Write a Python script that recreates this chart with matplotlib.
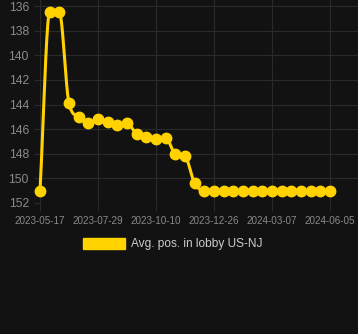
import numpy as np
import matplotlib.pyplot as plt
from matplotlib.patches import Patch

plt.rcParams['font.family'] = ['Liberation Sans', 'DejaVu Sans']

# average lobby position, one value per sample
positions = [151.0, 136.5, 136.5, 143.9, 145.0, 145.5, 145.2, 145.4, 145.7, 145.5,
             146.4, 146.6, 146.8, 146.7, 148.0, 148.2, 150.4, 151.0, 151.0, 151.0,
             151.0, 151.0, 151.0, 151.0, 151.0, 151.0, 151.0, 151.0, 151.0, 151.0,
             151.0]
tick_labels = ['2023-05-17', '2023-07-29', '2023-10-10', '2023-12-26', '2024-03-07', '2024-06-05']
tick_idx = [0, 6, 12, 18, 24, 30]
y_ticks = [136, 138, 140, 142, 144, 146, 148, 150, 152]

BG = '#121212'
GRID = '#2a2a2a'
GOLD = '#ffd200'


def monotone(x, y, n=20):
    # Fritsch-Carlson monotone cubic, only for drawing the smooth line
    x = np.asarray(x, float)
    y = np.asarray(y, float)
    h = np.diff(x)
    d = np.diff(y) / h
    m = np.zeros_like(y)
    m[0], m[-1] = d[0], d[-1]
    for i in range(1, len(y) - 1):
        if d[i - 1] * d[i] <= 0:
            m[i] = 0
        else:
            m[i] = (d[i - 1] + d[i]) / 2
    for i in range(len(d)):
        if d[i] == 0:
            m[i] = m[i + 1] = 0
        else:
            a, b = m[i] / d[i], m[i + 1] / d[i]
            s = a * a + b * b
            if s > 9:
                t = 3 / np.sqrt(s)
                m[i], m[i + 1] = t * a * d[i], t * b * d[i]
    xs, ys = [], []
    for i in range(len(d)):
        t = np.linspace(0, 1, n, endpoint=False)
        h00 = 2 * t**3 - 3 * t**2 + 1
        h10 = t**3 - 2 * t**2 + t
        h01 = -2 * t**3 + 3 * t**2
        h11 = t**3 - t**2
        xs.append(x[i] + t * h[i])
        ys.append(h00 * y[i] + h10 * h[i] * m[i] + h01 * y[i + 1] + h11 * h[i] * m[i + 1])
    xs.append([x[-1]])
    ys.append([y[-1]])
    return np.concatenate(xs), np.concatenate(ys)


x = np.arange(len(positions))
sx, sy = monotone(x, positions)

fig = plt.figure(figsize=(3.58, 3.34), dpi=100, facecolor=BG)
ax = fig.add_axes([40 / 358, 1 - 203 / 334, 318 / 358, 203 / 334], facecolor=BG)

ax.plot(sx, sy, color=GOLD, lw=2.2, zorder=3, clip_on=False)
ax.plot(x, positions, 'o', color=GOLD, ms=7.5, zorder=4, clip_on=False)

ax.set_xlim(0, 32.9)
ax.set_ylim(152, 135.5)
ax.set_yticks(y_ticks)
ax.set_xticks(tick_idx)
ax.set_xticklabels(tick_labels)
ax.grid(True, color=GRID, lw=0.8)
for s in ax.spines.values():
    s.set_visible(False)
ax.tick_params(axis='y', colors=GRID, labelcolor='#8a8a8a', labelsize=8.7, length=4, pad=4)
ax.tick_params(axis='x', colors=GRID, labelcolor='#8a8a8a', labelsize=7.1, length=6, pad=3)

fig.legend(handles=[Patch(color=GOLD, label='Avg. pos. in lobby US-NJ')],
           loc='center', bbox_to_anchor=(173 / 358, 1 - 244 / 334), frameon=False,
           fontsize=8.6, labelcolor='#cccccc', handlelength=3.5, handleheight=1.1,
           handletextpad=0.5)

fig.savefig('out.png', dpi=100, facecolor=BG)
